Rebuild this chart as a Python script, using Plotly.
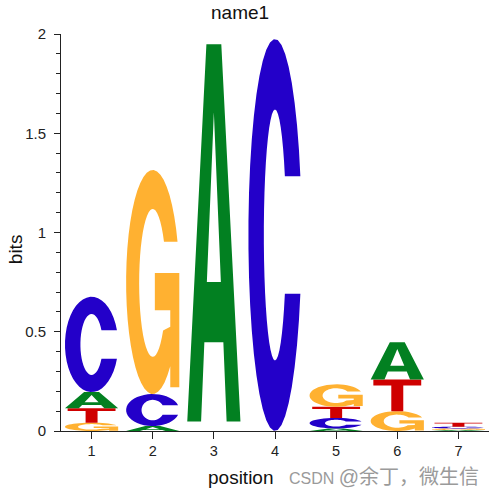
import numpy as np
import plotly.graph_objects as go

# Hauteurs des lettres (bits) par position
positions = [1, 2, 3, 4, 5, 6, 7]
height_A = [0.082, 0.025, 1.900, 0.000, 0.013, 0.187, 0.005]
height_C = [0.480, 0.161, 0.000, 1.975, 0.053, 0.000, 0.009]
height_G = [0.042, 1.129, 0.000, 0.000, 0.113, 0.100, 0.008]
height_T = [0.072, 0.000, 0.000, 0.000, 0.056, 0.160, 0.020]
baseline = [0.0, 0.0, 0.048, 0.0, 0.0, 0.0, 0.0]

y_ticks = [0, 0.5, 1, 1.5, 2]
y_labels = ["0", "0.5", "1", "1.5", "2"]

colors = {"A": "#028021", "C": "#2300C9", "G": "#FFB131", "T": "#CF0000"}


def arc(cx, cy, rx, ry, a0, a1, n=40):
    t = np.radians(np.linspace(a0, a1, n))
    return list(zip(cx + rx * np.cos(t), cy + ry * np.sin(t)))


# contours des glyphes dans un carré unité
def glyph(letter):
    if letter == "C":
        ao = np.degrees(np.arcsin(0.15 / 0.5))
        ai = np.degrees(np.arcsin(0.15 / 0.32))
        pts = arc(0.5, 0.5, 0.5, 0.5, ao, 360 - ao) + [(0.73, 0.35)]
        pts += arc(0.5, 0.5, 0.21, 0.32, 360 - ai, ai) + [(0.73, 0.65)]
        return [pts]
    if letter == "G":
        ao = np.degrees(np.arcsin(0.18 / 0.5))
        ai = np.degrees(np.arcsin((0.68 - 0.496) / 0.33))
        end = 360 - np.degrees(np.arccos(0.33 / 0.5))
        pts = arc(0.5, 0.5, 0.5, 0.5, ao, end)
        pts += [(0.83, 0.03), (1.0, 0.03), (1.0, 0.54), (0.54, 0.54),
                (0.54, 0.374), (0.83, 0.374), (0.83, 0.3)]
        pts += arc(0.5, 0.496, 0.255, 0.33, 320, ai)
        return [pts]
    if letter == "A":
        s = 0.24 / 0.82
        outer = [(0, 0), (0.36, 1), (0.64, 1), (1, 0), (0.74, 0),
                 (0.74 - s * 0.21, 0.21), (0.26 + s * 0.21, 0.21), (0.26, 0)]
        hole = [(0.5, 0.82), (0.26 + s * 0.37, 0.37), (0.74 - s * 0.37, 0.37)]
        return [outer, hole]
    # T
    return [[(0.3875, 0), (0.6125, 0), (0.6125, 0.81), (0.95, 0.81), (0.95, 1.0),
             (0.05, 1.0), (0.05, 0.81), (0.3875, 0.81)]]


def letter_path(letter, x, y0, h, w=0.87):
    parts = []
    for poly in glyph(letter):
        coords = [(x - w / 2 + w * gx, y0 + h * gy) for gx, gy in poly]
        parts.append("M " + " L ".join(f"{a:.5f},{b:.5f}" for a, b in coords) + " Z")
    return " ".join(parts)


heights = {"A": height_A, "C": height_C, "G": height_G, "T": height_T}
shapes = []
for i, pos in enumerate(positions):
    stack = sorted(["A", "C", "G", "T"], key=lambda L: heights[L][i])
    y0 = baseline[i]
    for L in stack:
        h = heights[L][i]
        if h <= 0:
            continue
        shapes.append(dict(type="path", xref="x", yref="y", path=letter_path(L, pos, y0, h),
                           fillcolor=colors[L], fillrule="evenodd", line=dict(width=0), layer="above"))
        y0 += h

fig = go.Figure(go.Scatter(x=positions, y=[0] * 7, mode="none", showlegend=False, hoverinfo="skip"))

font = "Arial, Liberation Sans, sans-serif"
label_font = dict(size=19, color="#111111")
fig.update_layout(
    width=494, height=494, autosize=False,
    margin=dict(l=61, r=5, t=34, b=63),
    plot_bgcolor="white", paper_bgcolor="white",
    shapes=shapes,
    font=dict(family=font, color="#222222"),
    annotations=[
        dict(text="name1", xref="paper", yref="paper", x=0.418, y=1.053, xanchor="center",
             yanchor="middle", showarrow=False, font=label_font),
        dict(text="bits", xref="paper", yref="paper", x=-0.1075, y=0.458, textangle=-90,
             xanchor="center", yanchor="middle", showarrow=False, font=label_font),
        dict(text="position", xref="paper", yref="paper", x=0.4206, y=-0.116, xanchor="center",
             yanchor="middle", showarrow=False, font=label_font),
        dict(text='<span style="font-size:16px">CSDN </span>@余丁，微生信', xref="paper", yref="paper",
             x=0.528, y=-0.116, xanchor="left", yanchor="middle", showarrow=False,
             font=dict(size=20, color="#9a9a9a", family="Liberation Sans, Noto Sans CJK SC")),
    ],
)
fig.update_xaxes(range=[0.5, 7.5], tickvals=positions, ticks="outside", ticklen=7, tickwidth=1,
                 tickcolor="#222", showline=True, linecolor="#222", linewidth=1,
                 showgrid=False, zeroline=False, tickfont=dict(size=14.5), fixedrange=True)
fig.update_yaxes(range=[0, 2], tickvals=y_ticks, ticktext=y_labels, ticks="outside", ticklen=6,
                 tickwidth=1, tickcolor="#222", showline=True, linecolor="#222", linewidth=1,
                 showgrid=False, zeroline=False, tickfont=dict(size=15), ticklabelstandoff=5,
                 minor=dict(dtick=0.1, ticks="outside", ticklen=4, tickcolor="#222", showgrid=False),
                 fixedrange=True)

fig.write_html("out.html", config={"displayModeBar": False},
               post_script="document.body.style.margin='0';")
